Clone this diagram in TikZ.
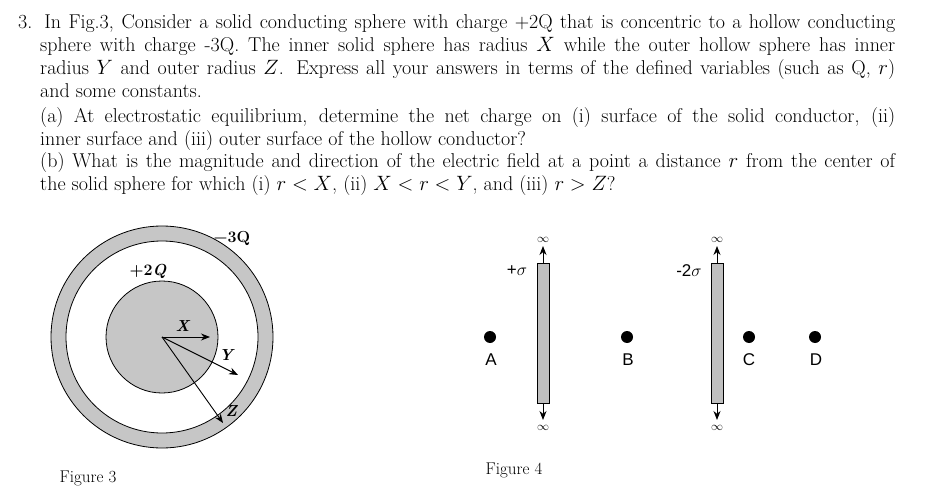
\documentclass[tikz,border=0pt]{standalone}
\usepackage{fontspec}
\usetikzlibrary{arrows.meta}
\newfontfamily\sansf{Liberation Sans}
\begin{document}
\begin{tikzpicture}[x=1pt,y=-1pt,
  ln/.style={anchor=base west,inner sep=0pt,font=\fontsize{20}{22}\selectfont},
  lab/.style={inner sep=0pt,font=\fontsize{16}{17}\selectfont\bfseries},
  slab/.style={inner sep=0pt,font=\sansf\fontsize{17}{18}\selectfont},
  inf/.style={inner sep=0pt,font=\fontsize{13}{13}\selectfont},
  dot/.style={circle,fill=black,inner sep=0pt,minimum size=12pt},
  plate/.style={draw=black,fill=gray!50,line width=0.8pt},
  arr/.style={-{Stealth[length=9pt,width=7pt]},line width=0.9pt}]
\useasboundingbox (0,0) rectangle (931,494);
\fill[white] (0,0) rectangle (931,494);
% text
\node[ln] (l1) at (18,29) {\makebox[877pt][s]{3. In Fig.3, Consider a solid conducting sphere with charge +2Q that is concentric to a hollow conducting}};
\node[ln] (l2) at (40,52) {\makebox[855pt][s]{sphere with charge -3Q. The inner solid sphere has radius $X$ while the outer hollow sphere has inner}};
\node[ln] (l3) at (40,75) {\makebox[855pt][s]{radius $Y$ and outer radius $Z$. Express all your answers in terms of the defined variables (such as Q, $r$)}};
\node[ln] (l4) at (40,98) {and some constants.};
\node[ln] (l5) at (40,123) {\makebox[855pt][s]{(a) At electrostatic equilibrium, determine the net charge on (i) surface of the solid conductor, (ii)}};
\node[ln] (l6) at (40,146) {inner surface and (iii) outer surface of the hollow conductor?};
\node[ln] (l7) at (40,168) {\makebox[855pt][s]{(b) What is the magnitude and direction of the electric field at a point a distance $r$ from the center of}};
\node[ln] (l8) at (40,191) {the solid sphere for which (i) $r<X$, (ii) $X<r<Y$, and (iii) $r>Z$?};
% figure 3
\coordinate (O) at (162,337);
\fill[gray!45,draw=black,line width=0.8pt] (O) circle[radius=111];
\fill[white,draw=black,line width=0.8pt] (O) circle[radius=96];
\fill[gray!45,draw=black,line width=0.8pt] (O) circle[radius=56];
\coordinate (xe) at (210,337);
\coordinate (ye) at (238,375);
\coordinate (ze) at (223,423);
\draw[arr] (O) -- (xe);
\draw[arr] (O) -- (ye);
\draw[arr] (O) -- (ze);
\node[lab] (xl) at (183,326) {\textit{X}};
\node[lab] (yl) at (227,355) {\textit{Y}};
\node[lab] (zl) at (232,411) {\textit{Z}};
\node[lab] (q2) at (148,271) {+2\textit{Q}};
\node[lab] (q3) at (232,238) {\textminus3Q};
\node[ln,anchor=center] (f3) at (88,478) {\fontsize{17}{18}\selectfont Figure 3};
% figure 4
\node[plate,minimum width=12pt,minimum height=140pt,inner sep=0pt] (p1) at (543,333) {};
\node[plate,minimum width=12pt,minimum height=140pt,inner sep=0pt] (p2) at (717,333) {};
\node[inf] (i1t) at (543,240) {$\infty$};
\node[inf] (i1b) at (543,428) {$\infty$};
\node[inf] (i2t) at (717,240) {$\infty$};
\node[inf] (i2b) at (717,428) {$\infty$};
\draw[arr] (p1.north) -- (543,246);
\draw[arr] (p1.south) -- (543,420);
\draw[arr] (p2.north) -- (717,246);
\draw[arr] (p2.south) -- (717,420);
\node[slab] (s1) at (517,271) {+$\sigma$};
\node[slab] (s2) at (689,271) {-2$\sigma$};
\node[dot] (A) at (490,337) {};
\node[dot] (B) at (627,337) {};
\node[dot] (C) at (749,337) {};
\node[dot] (D) at (815,337) {};
\node[slab] (Al) at (491,360) {A};
\node[slab] (Bl) at (628,360) {B};
\node[slab] (Cl) at (749,360) {C};
\node[slab] (Dl) at (816,360) {D};
\node[ln,anchor=center] (f4) at (514,470) {\fontsize{17}{18}\selectfont Figure 4};
\end{tikzpicture}
\end{document}
